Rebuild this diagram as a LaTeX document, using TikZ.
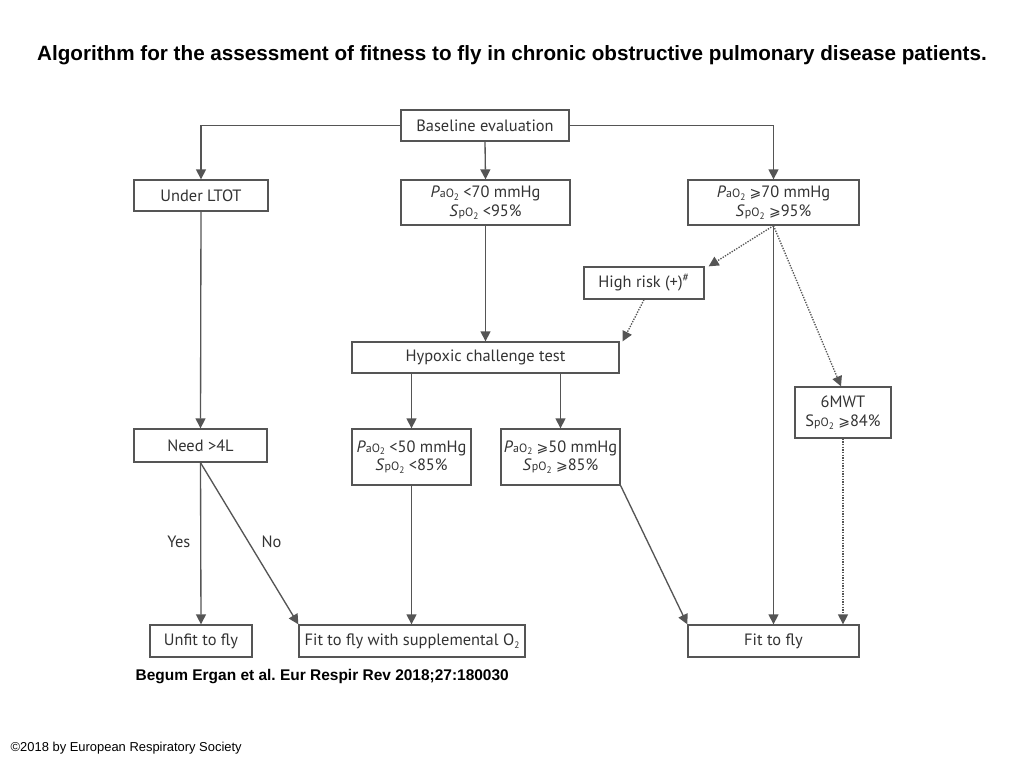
\documentclass[tikz,border=0pt]{standalone}
\usepackage{fontspec}
\setmainfont{Liberation Sans}
\newfontfamily\boxfont{PT Sans}
\newfontfamily\symf{DejaVu Sans}
\usetikzlibrary{arrows.meta,calc}
\definecolor{txt}{HTML}{333333}
\definecolor{ln}{HTML}{555555}
\newcommand{\PaO}{\textit{P}{\small aO}\raisebox{-0.35ex}{\scriptsize 2}}
\newcommand{\SpO}{\textit{S}{\small pO}\raisebox{-0.35ex}{\scriptsize 2}}
\newcommand{\SpOu}{S{\small pO}\raisebox{-0.35ex}{\scriptsize 2}}
\newcommand{\geqs}{{\symf\fontsize{10.5}{10}\selectfont ⩾}}
\begin{document}
\begin{tikzpicture}[x=0.75pt,y=-0.75pt,
  bx/.style={draw=ln,line width=1pt,inner sep=0pt,align=center,text=txt,
    font=\boxfont\fontsize{12.3}{14}\selectfont},
  arr/.style={draw=ln,line width=1pt,-{Triangle[length=7.5pt,width=7.5pt]}},
  dot/.style={arr,densely dotted},
  lbl/.style={text=txt,font=\boxfont\fontsize{12.3}{14}\selectfont}]
\useasboundingbox (0,0) rectangle (1024,768);
\fill[white] (0,0) rectangle (1024,768);
\node[font=\bfseries\fontsize{15.5}{18}\selectfont] (title) at (512,55) {Algorithm for the assessment of fitness to fly in chronic obstructive pulmonary disease patients.};
\node[bx,minimum width=126pt,minimum height=23.25pt] (base) at (485,125.5) {Baseline evaluation};
\node[bx,minimum width=100.5pt,minimum height=23.25pt] (ltot) at (201,195.5) {Under LTOT};
\node[bx,minimum width=126.75pt,minimum height=33.75pt] (pa70) at (485.5,202.5) {\PaO{} <70 mmHg\\\SpO{} <95\%};
\node[bx,minimum width=128.25pt,minimum height=33.75pt] (pg70) at (773.5,202.5) {\PaO{} \geqs70 mmHg\\\SpO{} \geqs95\%};
\node[bx,minimum width=90pt,minimum height=24pt] (high) at (644,283) {High risk (+)\textsuperscript{\#}};
\node[bx,minimum width=200.25pt,minimum height=23.25pt] (hyp) at (485.5,357.5) {Hypoxic challenge test};
\node[bx,minimum width=89.25pt,minimum height=42pt] (pl50) at (411.5,457) {\PaO{} <50 mmHg\\\SpO{} <85\%};
\node[bx,minimum width=89.25pt,minimum height=42pt] (pg50) at (560.5,457) {\PaO{} \geqs50 mmHg\\\SpO{} \geqs85\%};
\node[bx,minimum width=72pt,minimum height=38.25pt] (mwt) at (843,412.5) {6MWT\\\SpOu{} \geqs84\%};
\node[bx,minimum width=99.75pt,minimum height=24.75pt] (need) at (200.5,445.5) {Need >4L};
\node[bx,minimum width=76.5pt,minimum height=24pt] (unfit) at (201,641) {Unfit to fly};
\node[bx,minimum width=169.5pt,minimum height=24pt] (fito) at (412,641) {Fit to fly with supplemental O\raisebox{-0.35ex}{\scriptsize 2}};
\node[bx,minimum width=128.25pt,minimum height=24pt] (fit) at (773.5,641) {Fit to fly};
\node[font=\bfseries\fontsize{11.6}{13}\selectfont,anchor=west] (cite) at (131,677) {Begum Ergan et al.\ Eur Respir Rev 2018;27:180030};
\node[font=\fontsize{9.7}{11}\selectfont,anchor=west] (copy) at (6,748) {©2018 by European Respiratory Society};
\draw[arr] (base.west) -| (ltot.north);
\draw[arr] (base.south) -- (pa70.north);
\draw[arr] (base.east) -| (pg70.north);
\draw[arr] (ltot.south) -- (need.north);
\draw[arr] (pa70.south) -- (hyp.north);
\draw[dot] (pg70.south) -- ($(high.north east)+(4,0)$);
\draw[arr] (pg70.south) -- (fit.north);
\draw[dot] (pg70.south) -- ($(mwt.north)+(-2,0)$);
\draw[dot] (high.south) -- ($(hyp.north east)+(3,0)$);
\draw[arr] (hyp.south -| pl50.north) -- (pl50.north);
\draw[arr] (hyp.south -| pg50.north) -- (pg50.north);
\draw[arr] (pl50.south) -- (pl50.south |- fito.north);
\draw[arr] (need.south) -- node[lbl,left=4pt,pos=0.49] (yes) {Yes} (unfit.north);
\draw[arr] (need.south) -- node[lbl,right=6pt,pos=0.49] (no) {No} (fito.north west);
\draw[arr] (pg50.south east) -- (fit.north west);
\draw[dot] (mwt.south) -- (mwt.south |- fit.north);
\end{tikzpicture}
\end{document}
